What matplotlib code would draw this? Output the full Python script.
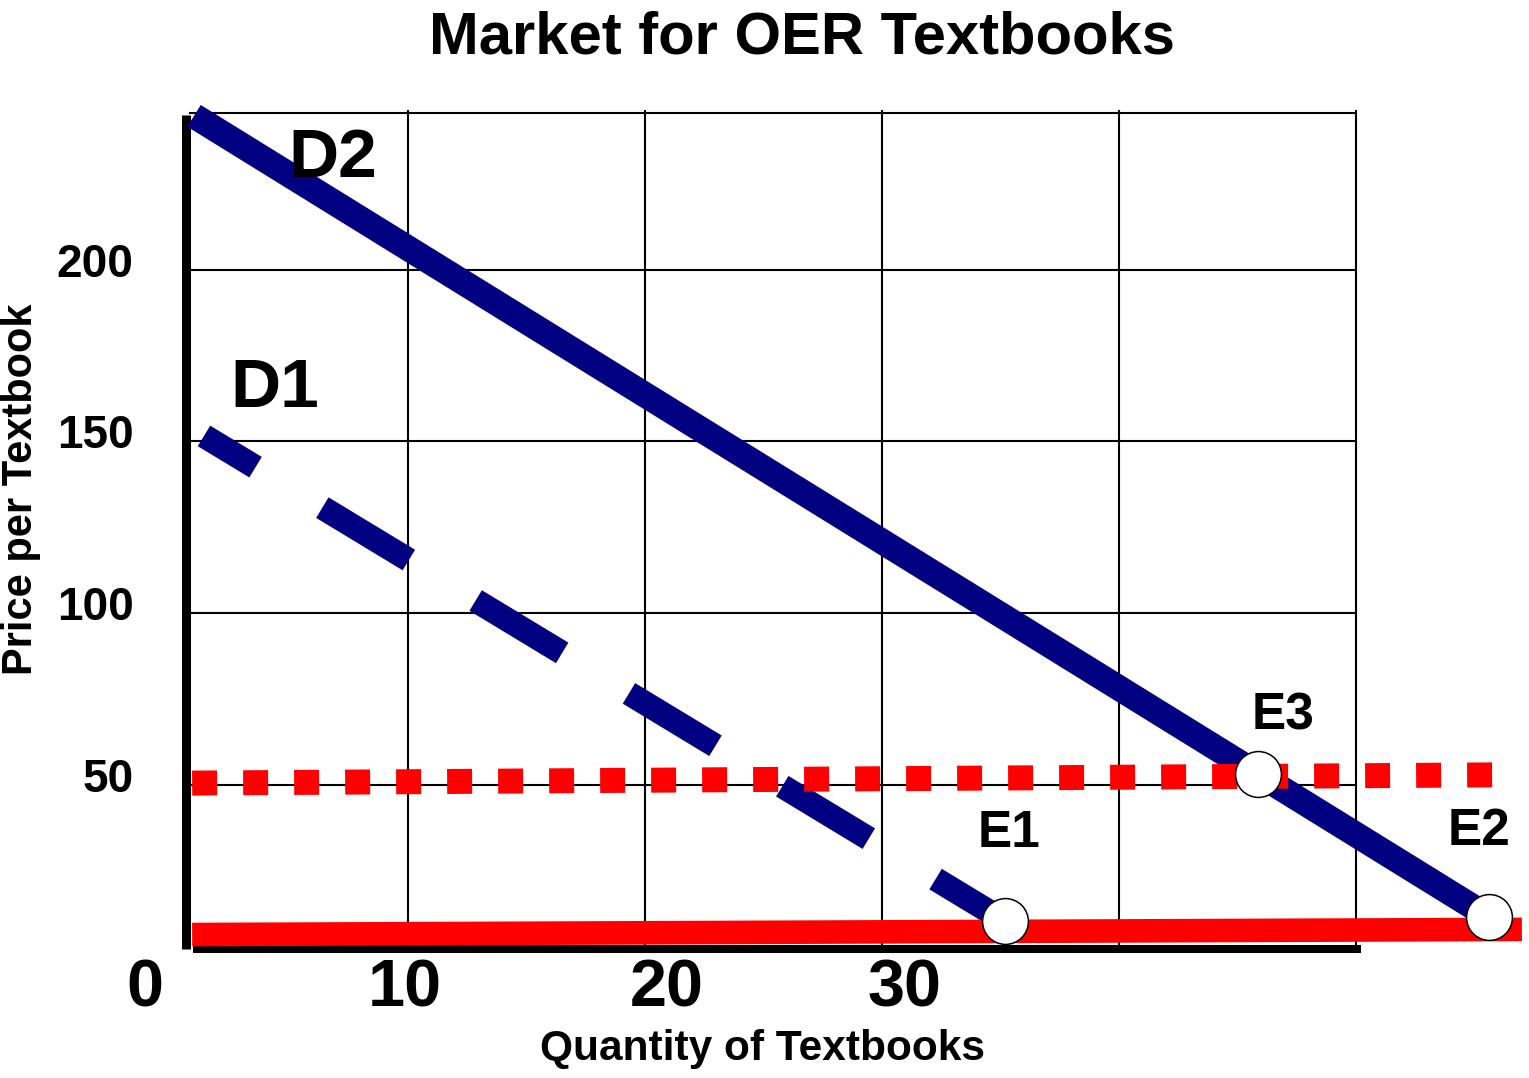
import matplotlib
matplotlib.use("Agg")
import matplotlib.pyplot as plt

plt.rcParams['font.family'] = ['Liberation Sans', 'DejaVu Sans']

# ---- data ----
title = "Market for OER Textbooks"
x_label = "Quantity of Textbooks"
y_label = "Price per Textbook"

quantity_ticks = [0, 10, 20, 30]
price_ticks = [50, 100, 150, 200]
grid_q = [10, 20, 30, 40, 50]
grid_p = [50, 100, 150, 200]

d2_q = [0.95, 55.62]
d2_p = [244.8, 11.5]
d1_q = [1.37, 35.18]
d1_p = [151.6, 10.3]

supply_50_q = [0.87, 56.04]
supply_50_p = [50.5, 52.9]
supply_0_q = [0.87, 57.0]
supply_0_p = [6.4, 7.9]

eq_names = ["E1", "E2", "E3"]
eq_q = [35.18, 55.62, 45.86]
eq_p = [10.3, 11.5, 53.1]

# ---- figure ----
W, H, DPI = 1529, 1078, 100
fig = plt.figure(figsize=(W / DPI, H / DPI), dpi=DPI)
ax = fig.add_axes([0, 0, 1, 1])
ax.set_xlim(-7.24, 57.30)
ax.set_ylim(-35.38, 278.54)
ax.axis('off')

NAVY = '#000080'
RED = '#FF0000'
top_p = 245.6
base_p = 2.2
left_q = 0.61

# grid
for q in grid_q:
    ax.plot([q, q], [base_p, top_p + 0.8], color='black', lw=1.5, zorder=1,
            solid_capstyle='butt')
for p in grid_p:
    ax.plot([0.8, 50], [p, p], color='black', lw=1.5, zorder=1,
            solid_capstyle='butt')
ax.plot([0.78, 50], [top_p, top_p], color='black', lw=1.5, zorder=1)

# axes lines
ax.plot([left_q, left_q], [base_p, top_p - 0.6], color='black', lw=6.5,
        solid_capstyle='butt', zorder=2)
ax.plot([0.9, 50.2], [base_p, base_p], color='black', lw=5.8,
        solid_capstyle='butt', zorder=2)

# demand curves
ax.plot(d2_q, d2_p, color=NAVY, lw=18.4, solid_capstyle='butt', zorder=3)
ax.plot(d1_q, d1_p, color=NAVY, lw=17.3, dash_capstyle='butt',
        linestyle=(1.7, (4.21, 3.25)), zorder=3)

# supply curves
ax.plot(supply_50_q, supply_50_p, color=RED, lw=18, dash_capstyle='butt',
        linestyle=(0, (1.0, 1.04)), zorder=4)
ax.plot(supply_0_q, supply_0_p, color=RED, lw=17, solid_capstyle='butt',
        zorder=4)

# equilibrium points
ax.plot(eq_q, eq_p, linestyle='none', marker='o', markersize=33,
        markerfacecolor='white', markeredgecolor='black',
        markeredgewidth=1.1, zorder=6)

# labels of curves and points
txt = dict(fontweight='bold', color='black', zorder=7, va='baseline', ha='left')
ax.text(4.92, 227.0, "D2", fontsize=50, **txt)
ax.text(2.47, 160.0, "D1", fontsize=50, **txt)
eq_label_pos = {"E1": (34.04, 31.9), "E2": (53.88, 32.5), "E3": (45.61, 66.2)}
for name in eq_names:
    lx, ly = eq_label_pos[name]
    ax.text(lx, ly, name, fontsize=37, **txt)

# tick labels
for p in price_ticks:
    ax.text(-1.6, p - 2, str(p), fontsize=33, fontweight='bold',
            ha='right', va='baseline')
x_nudge = [-1.12, -0.14, 0.92, 0.92]
for q, dx in zip(quantity_ticks, x_nudge):
    ax.text(q + dx, -14.7, str(q), fontsize=48, fontweight='bold',
            ha='center', va='baseline')

# titles
fig.text(802 / W, 1 - 53 / H, title, fontsize=43, fontweight='bold',
         ha='center', va='baseline')
fig.text(762 / W, 1 - 1060 / H, x_label, fontsize=30.5, fontweight='bold',
         ha='center', va='baseline')
fig.text(32 / W, 1 - 489 / H, y_label, fontsize=30, fontweight='bold',
         ha='center', va='baseline', rotation=90, rotation_mode='anchor')

fig.savefig("out.png", dpi=DPI, facecolor='white')
